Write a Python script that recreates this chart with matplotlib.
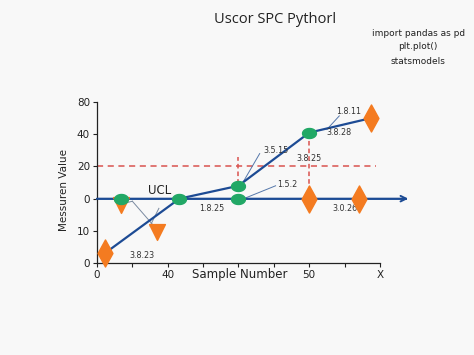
import numpy as np
import matplotlib.pyplot as plt
from matplotlib.path import Path

# chart values (axis units: x = tick slots, y = tick rows)
x_ticks = [0, 1, 2, 3, 4, 5, 6, 7, 8]
x_tick_labels = ['0', '', '40', '', '', '', '50', '', 'X']
y_ticks = [0, 1, 2, 3, 4, 5]
y_tick_labels = ['0', '10', '0', '20', '40', '80']

process_x = [0.23, 2.33, 4.0, 6.0, 7.74]
process_y = [0.31, 2.0, 2.4, 4.05, 4.5]
center_level = 2.0
ucl_level = 3.0

green_x = [0.68, 2.33, 4.0, 4.0, 6.0]
green_y = [2.0, 2.0, 2.0, 2.4, 4.05]
tri_x = [0.68, 1.7]
tri_y = [1.8, 0.96]
diamond_x = [0.23, 6.0, 7.4, 7.74]
diamond_y = [0.31, 2.0, 2.0, 4.5]

point_labels = ['3.8.23', '1.8.25', '3.5.15', '1.5.2', '3.8.25', '1.8.11', '3.8.28', '3.0.26']
label_x = [0.93, 2.9, 4.7, 5.1, 5.65, 6.75, 6.5, 6.65]
label_y = [0.25, 1.7, 3.5, 2.45, 3.25, 4.7, 4.07, 1.7]

BLUE = '#1d4b94'
GREEN = '#22a866'
ORANGE = '#f47b20'
RED = '#d9534f'

# tall diamond and flat ellipse markers
tall_diamond = Path([(0, 1), (0.55, 0), (0, -1), (-0.55, 0), (0, 1)],
                    [Path.MOVETO, Path.LINETO, Path.LINETO, Path.LINETO, Path.CLOSEPOLY])
t = np.linspace(0, 2 * np.pi, 40)
flat_dot = Path(np.column_stack([np.cos(t), 0.72 * np.sin(t)]))

fig = plt.figure(figsize=(4.74, 3.55), dpi=100)
fig.patch.set_facecolor('#f8f8f8')
ax = fig.add_axes([0.2046, 0.259, 0.5970, 0.4535])
ax.set_facecolor('#f8f8f8')
ax.set_xlim(0, 8)
ax.set_ylim(0, 5)

# limit lines
ax.plot([0, 7.9], [ucl_level, ucl_level], color=RED, ls=(0, (4, 3)), lw=1.1)
ax.plot([4.0, 4.0], [2.0, 3.3], color=RED, ls=(0, (3, 2)), lw=1.1)
ax.plot([6.0, 6.0], [2.0, 4.05], color=RED, ls=(0, (3, 2)), lw=1.1)

# center line with arrow
ax.annotate('', xy=(8.8, center_level), xytext=(0, center_level),
            arrowprops=dict(arrowstyle='->', color=BLUE, lw=1.4,
                            shrinkA=0, shrinkB=0), annotation_clip=False)
ax.plot([0, 8.75], [center_level, center_level], color='#2b5ea7', lw=1.4, clip_on=False)

ax.plot(process_x, process_y, color=BLUE, lw=1.6, zorder=3)

ax.scatter(green_x, green_y, marker=flat_dot, s=100, color=GREEN, zorder=5)
ax.scatter(tri_x, tri_y, marker='v', s=130, color=ORANGE, zorder=4)
ax.scatter(diamond_x, diamond_y, marker=tall_diamond, s=380, color=ORANGE, zorder=6, clip_on=False)

# UCL callout
ax.text(1.45, 2.13, 'UCL', fontsize=8.5, color='#222222')
ax.plot([1.0, 0.75], [1.92, 1.85], color='#7a8aa0', lw=0.7)
ax.plot([1.0, 1.65], [1.92, 1.1], color='#7a8aa0', lw=0.7)
ax.plot([1.75, 1.5], [1.7, 1.15], color='#7a8aa0', lw=0.7)

for txt, tx, ty in zip(point_labels, label_x, label_y):
    ax.text(tx, ty, txt, fontsize=5.8, color='#333333', va='center')

# leader lines
ax.plot([4.6, 4.15], [3.4, 2.55], color='#5577aa', lw=0.7)
ax.plot([5.05, 4.15], [2.4, 2.0], color='#5577aa', lw=0.7)
ax.plot([6.85, 6.5], [4.57, 4.15], color='#5577aa', lw=0.7)

ax.set_xticks(x_ticks)
ax.set_xticklabels(x_tick_labels, fontsize=7.5)
ax.set_yticks(y_ticks)
ax.set_yticklabels(y_tick_labels, fontsize=7.5)
ax.tick_params(length=3, width=0.8, colors='#222222', pad=2)
for side in ['top', 'right']:
    ax.spines[side].set_visible(False)
for side in ['left', 'bottom']:
    ax.spines[side].set_color('#222222')
    ax.spines[side].set_linewidth(0.9)

fig.text(0.505, 0.228, 'Sample Number', fontsize=8.5, ha='center', va='center', color='#222222')
fig.text(0.135, 0.465, 'Messuren Value', fontsize=7.5, ha='center', va='center',
         rotation=90, color='#222222')

fig.text(0.58, 0.945, 'Uscor SPC Pythorl', fontsize=10.5, ha='center', va='center',
         color='#222222', family='Open Sans')
fig.text(0.882, 0.905, 'import pandas as pd', fontsize=6.5, ha='center', va='center', color='#222222')
fig.text(0.882, 0.870, 'plt.plot()', fontsize=6.5, ha='center', va='center', color='#222222')
fig.text(0.882, 0.826, 'statsmodels', fontsize=6.5, ha='center', va='center', color='#222222')

fig.savefig('out.png', dpi=100, facecolor=fig.get_facecolor())
